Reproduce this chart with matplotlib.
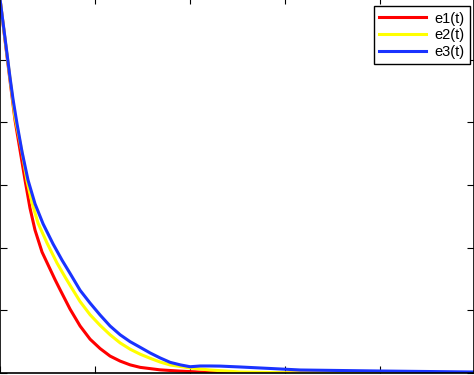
import numpy as np
import matplotlib
matplotlib.use('Agg')
import matplotlib.pyplot as plt

# curve samples (t, e(t))
t_e1 = [0, 0.053, 0.105, 0.158, 0.211, 0.264, 0.316, 0.369, 0.443, 0.527, 0.580, 0.633, 0.738,
        0.844, 0.949, 1.055, 1.160, 1.266, 1.371, 1.477, 1.688, 1.899, 2.110, 2.532, 5.0]
e1 = [5.97, 5.311, 4.673, 4.035, 3.557, 3.078, 2.632, 2.281, 1.930, 1.66, 1.49, 1.33, 1.02,
      0.75, 0.54, 0.39, 0.27, 0.19, 0.13, 0.09, 0.05, 0.03, 0.015, 0.0, 0.0]

t_e2 = [0, 0.053, 0.105, 0.158, 0.232, 0.285, 0.338, 0.401, 0.496, 0.601, 0.686, 0.738, 0.844,
        0.949, 1.055, 1.160, 1.266, 1.371, 1.477, 1.582, 1.688, 1.793, 2.004, 2.215, 2.532, 3.165, 5.0]
e2 = [5.97, 5.327, 4.705, 4.083, 3.525, 3.062, 2.711, 2.392, 2.073, 1.754, 1.531, 1.40, 1.14,
      0.93, 0.76, 0.61, 0.48, 0.38, 0.30, 0.235, 0.175, 0.128, 0.080, 0.048, 0.016, 0.0, 0.0]

t_e3 = [0, 0.053, 0.105, 0.137, 0.179, 0.232, 0.295, 0.369, 0.454, 0.559, 0.654, 0.738, 0.844,
        0.949, 1.055, 1.160, 1.266, 1.371, 1.477, 1.582, 1.688, 1.793, 1.899, 2.004, 2.110, 2.215,
        2.321, 2.532, 3.165, 3.998, 5.0]
e3 = [5.97, 5.343, 4.721, 4.37, 3.98, 3.53, 3.08, 2.70, 2.38, 2.06, 1.80, 1.59, 1.32,
      1.116, 0.925, 0.75, 0.61, 0.50, 0.41, 0.32, 0.24, 0.17, 0.13, 0.10, 0.112, 0.112,
      0.11, 0.096, 0.048, 0.032, 0.016]

labels = ['e1(t)', 'e2(t)', 'e3(t)']

plt.rcParams['font.family'] = ['Liberation Sans', 'DejaVu Sans']

fig = plt.figure(figsize=(4.74, 3.75), dpi=100)
ax = fig.add_axes([0, 2 / 375, 1.001, 376 / 375])

ax.plot(t_e1, e1, color='#ff0000', lw=2.2, label=labels[0])
ax.plot(t_e2, e2, color='#ffff00', lw=2.2, label=labels[1])
ax.plot(t_e3, e3, color='#1a33ff', lw=2.2, label=labels[2])

ax.set_xlim(0, 5)
ax.set_ylim(0, 6)
ax.set_xticks(np.arange(0, 6, 1))
ax.set_yticks(np.arange(0, 7, 1))
ax.tick_params(direction='in', length=5, width=0.8, top=True, right=True,
               labelbottom=False, labelleft=False)
for s in ax.spines.values():
    s.set_linewidth(1.2)

leg = ax.legend(loc='upper right', bbox_to_anchor=(0.99, 0.975), borderaxespad=0,
                fancybox=False, framealpha=1, edgecolor='black', fontsize=10.5,
                handlelength=3.2, handletextpad=0.6, labelspacing=0.2, borderpad=0.35)
leg.get_frame().set_linewidth(1.0)

fig.savefig('out.png', dpi=100)
